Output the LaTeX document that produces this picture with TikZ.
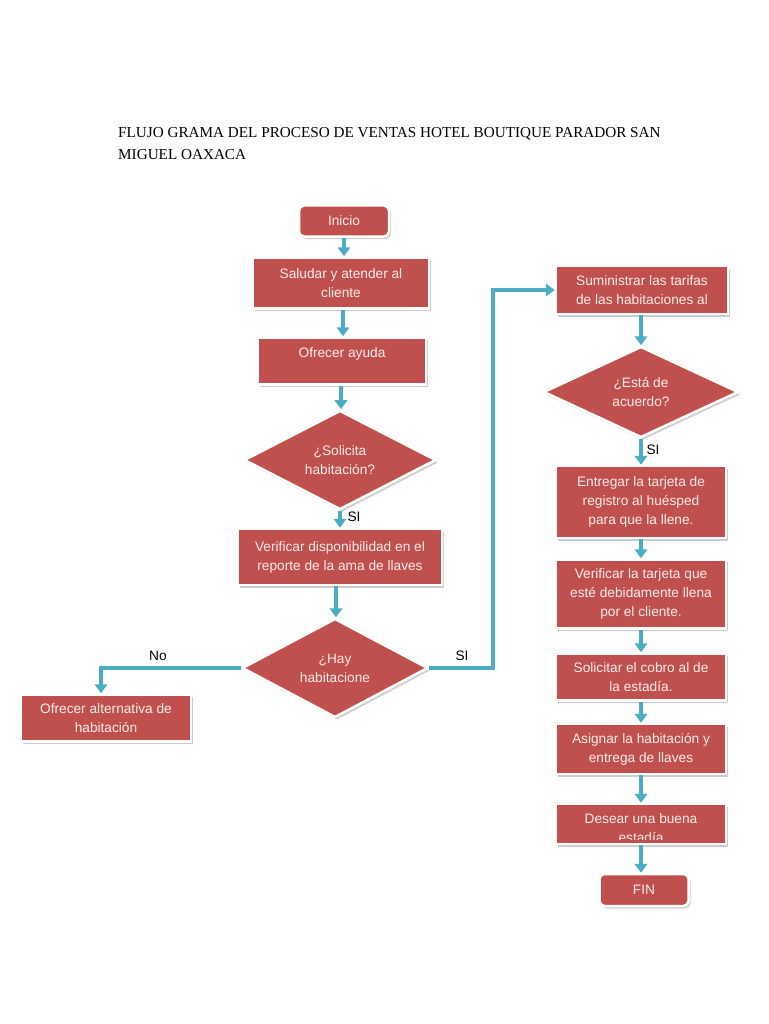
\documentclass[tikz,border=0pt]{standalone}
\usepackage{fontspec}
\setmainfont{Liberation Sans}
\newfontfamily\titlefont{Liberation Serif}
\usetikzlibrary{shapes.geometric,shadows,arrows.meta,calc}
\definecolor{boxred}{HTML}{C0504D}
\definecolor{arrowblue}{HTML}{4BACC6}
\definecolor{boxtext}{RGB}{250,236,236}
\begin{document}
\begin{tikzpicture}[x=1pt,y=-1pt,
  boxfont/.style={font=\fontsize{13.7}{19}\selectfont},
  shade/.style={drop shadow={shadow xshift=2pt, shadow yshift=-2.5pt, opacity=0.4}},
  box/.style={rectangle, fill=boxred, draw=white, line width=2.5pt, text=boxtext, boxfont, align=center, inner sep=0pt, shade},
  roundbox/.style={box, rounded corners=5pt},
  decision/.style={diamond, fill=boxred, draw=white, line width=2.5pt, text=boxtext, boxfont, align=center, inner sep=0pt, shade},
  flow/.style={draw=arrowblue, line width=3.8pt, -{Triangle[width=12.5pt,length=9pt]}},
  lbl/.style={text=black, boxfont, inner sep=1pt}
]
\useasboundingbox (0,0) rectangle (768,1024);

% title
\node[anchor=base west, font=\titlefont\fontsize{15.2}{22}\selectfont, inner sep=0pt] (title1) at (118,138) {FLUJO GRAMA DEL PROCESO DE VENTAS HOTEL BOUTIQUE PARADOR SAN};
\node[anchor=base west, font=\titlefont\fontsize{15.2}{22}\selectfont, inner sep=0pt] (title2) at (118,160) {MIGUEL OAXACA};

% left column
\node[roundbox, minimum width=90, minimum height=31] (inicio) at (344,221) {Inicio};
\node[box, minimum width=176, minimum height=51] (saludar) at (341,283) {Saludar y atender al\\cliente};
\node[box, minimum width=168, minimum height=47] (ayuda) at (342,361) {};
\node[text=boxtext, boxfont, inner sep=0pt] (ayudatxt) at (342,354) {Ofrecer ayuda};
\node[decision, minimum width=192, minimum height=92] (solicita) at (340,460) {¿Solicita\\habitación?};
\node[box, minimum width=204, minimum height=56] (verif) at (340,557) {Verificar disponibilidad en el\\reporte de la ama de llaves};
\node[decision, minimum width=186, minimum height=99] (hay) at (335,668) {¿Hay\\habitacione};
\node[box, minimum width=170, minimum height=47] (alt) at (106,718) {Ofrecer alternativa de\\habitación};

% right column
\node[box, minimum width=172, minimum height=48] (sum) at (642,290) {Suministrar las tarifas\\de las habitaciones al};
\node[decision, minimum width=195, minimum height=91] (esta) at (641,392) {¿Está de\\acuerdo?};
\node[box, minimum width=170, minimum height=72] (entregar) at (641,502) {Entregar la tarjeta de\\registro al huésped\\para que la llene.};
\node[box, minimum width=170, minimum height=69] (vtarjeta) at (641,594) {Verificar la tarjeta que\\esté debidamente llena\\por el cliente.};
\node[box, minimum width=170, minimum height=47] (cobro) at (641,677) {Solicitar el cobro al de\\la estadía.};
\node[box, minimum width=170, minimum height=50] (asignar) at (641,749) {Asignar la habitación y\\entrega de llaves};
\node[box, minimum width=170, minimum height=40] (desear) at (641,824) {};
\begin{scope}
  \clip (557,805) rectangle (725,839.5);
  \node[text=boxtext, boxfont, align=center, inner sep=0pt] (deseartxt) at (641,828.5) {Desear una buena\\estadía};
\end{scope}
\node[roundbox, minimum width=89, minimum height=32] (fin) at (644,890) {FIN};

% connectors
\draw[flow] (inicio.south) -- (inicio.south |- saludar.north);
\draw[flow] ([xshift=2pt]saludar.south) -- ([xshift=2pt]saludar.south |- ayuda.north);
\draw[flow] ([xshift=-1pt]ayuda.south) -- ([xshift=-1pt]ayuda.south |- solicita.north);
\draw[flow] (solicita.south) -- (solicita.south |- verif.north);
\draw[flow] ([xshift=-4pt]verif.south) -- ([xshift=-4pt]verif.south |- hay.north);
\draw[flow] (hay.west) -| ([xshift=-5pt]alt.north);
\coordinate (bend) at (493,668);
\draw[flow] (hay.east) -- (bend) |- (sum.west);
\draw[flow] ([xshift=-1pt]sum.south) -- ([xshift=-1pt]sum.south |- esta.north);
\draw[flow] (esta.south) -- (esta.south |- entregar.north);
\draw[flow] (entregar.south) -- (entregar.south |- vtarjeta.north);
\draw[flow] (vtarjeta.south) -- (vtarjeta.south |- cobro.north);
\draw[flow] (cobro.south) -- (cobro.south |- asignar.north);
\draw[flow] (asignar.south) -- (asignar.south |- desear.north);
\draw[flow] (desear.south) -- (desear.south |- fin.north);

% labels
\node[lbl] (si1) at (354,517) {SI};
\node[lbl] (no) at (158,656) {No};
\node[lbl] (si2) at (462,656) {SI};
\node[lbl] (si3) at (653,450) {SI};
\end{tikzpicture}
\end{document}
